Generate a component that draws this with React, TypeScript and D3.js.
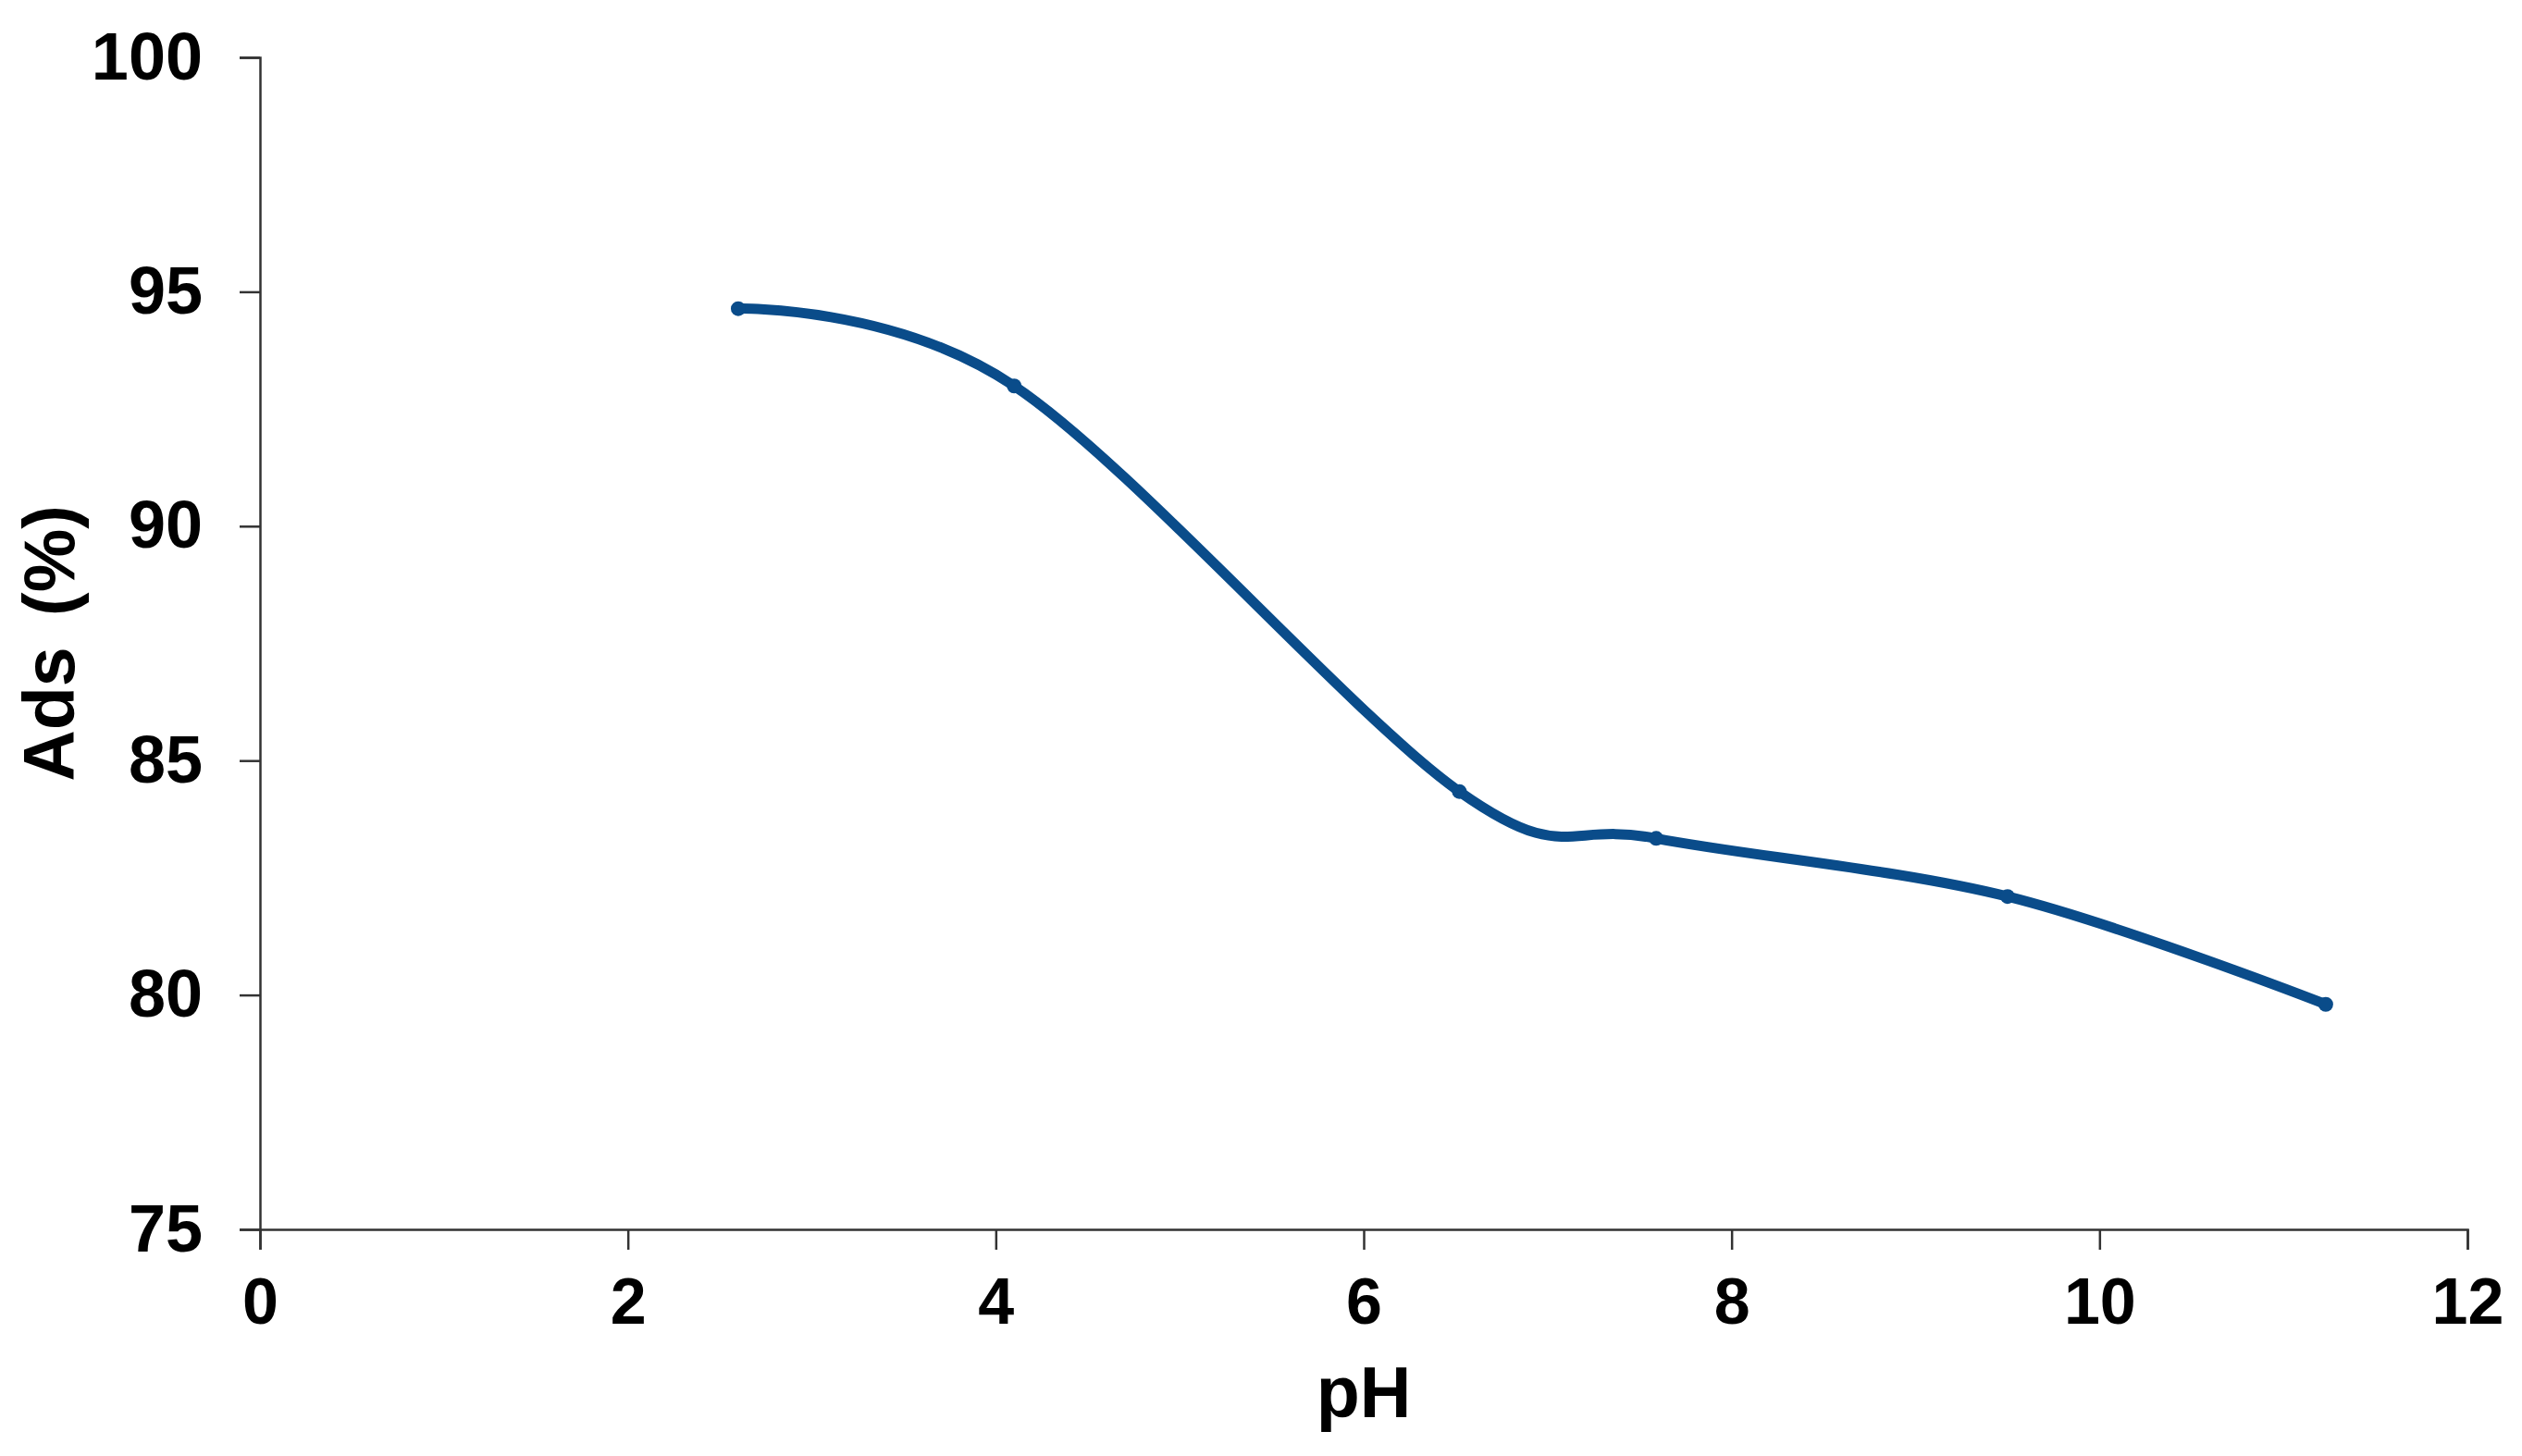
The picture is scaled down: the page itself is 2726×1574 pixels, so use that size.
import { useEffect, useRef } from "react";
import * as d3 from "d3";

// values
const phValues = [2.6, 4.1, 6.52, 7.59, 9.5, 11.23];
const adsValues = [94.64, 92.99, 84.34, 83.34, 82.1, 79.8];
const xTicks = [0, 2, 4, 6, 8, 10, 12];
const yTicks = [75, 80, 85, 90, 95, 100];
const xLabel = "pH";
const yLabel = "Ads (%)";

const WIDTH = 2726;
const HEIGHT = 1574;
const FONT = "'Liberation Sans', Arial, sans-serif";
const LINE_COLOR = "#0a4c8a";

const App = () => {
    const svgRef = useRef<SVGSVGElement>(null);

    useEffect(() => {
        const margin = { left: 281, right: 59, top: 62, bottom: 245 };

        const x = d3.scaleLinear()
            .domain([0, 12])
            .range([margin.left, WIDTH - margin.right]);
        const y = d3.scaleLinear()
            .domain([75, 100])
            .range([HEIGHT - margin.bottom, margin.top]);

        const svg = d3.select(svgRef.current);
        svg.selectAll("*").remove();

        // x axis
        const xAxis = svg.append("g")
            .attr("transform", `translate(0,${y(75)})`)
            .call(d3.axisBottom(x).tickValues(xTicks).tickSize(22).tickSizeOuter(22).tickPadding(30));
        xAxis.select(".domain").attr("stroke", "#333").attr("stroke-width", 2.5);
        xAxis.selectAll(".tick line").attr("stroke", "#333").attr("stroke-width", 2.5);
        xAxis.selectAll(".tick text")
            .attr("font-family", FONT)
            .attr("font-weight", "bold")
            .attr("font-size", 70)
            .attr("fill", "#000");

        // y axis
        const yAxis = svg.append("g")
            .attr("transform", `translate(${x(0)},0)`)
            .call(d3.axisLeft(y).tickValues(yTicks).tickSize(22).tickSizeOuter(22).tickPadding(40));
        yAxis.select(".domain").attr("stroke", "#333").attr("stroke-width", 2.5);
        yAxis.selectAll(".tick line").attr("stroke", "#333").attr("stroke-width", 2.5);
        yAxis.selectAll(".tick text")
            .attr("font-family", FONT)
            .attr("font-weight", "bold")
            .attr("font-size", 72)
            .attr("fill", "#000");

        // axis titles
        svg.append("text")
            .attr("x", (x(0) + x(12)) / 2)
            .attr("y", 1532)
            .attr("text-anchor", "middle")
            .attr("font-family", FONT)
            .attr("font-weight", "bold")
            .attr("font-size", 77)
            .text(xLabel);

        svg.append("text")
            .attr("transform", `translate(80,${(y(75) + y(100)) / 2}) rotate(-90)`)
            .attr("text-anchor", "middle")
            .attr("font-family", FONT)
            .attr("font-weight", "bold")
            .attr("font-size", 77)
            .attr("word-spacing", 12)
            .text(yLabel);

        const points: [number, number][] = phValues.map((p, i) => [p, adsValues[i]]);

        const line = d3.line<[number, number]>()
            .x(d => x(d[0]))
            .y(d => y(d[1]))
            .curve(d3.curveCardinal.tension(0));

        svg.append("path")
            .datum(points)
            .attr("d", line)
            .attr("fill", "none")
            .attr("stroke", LINE_COLOR)
            .attr("stroke-width", 11)
            .attr("stroke-linecap", "round");

        svg.append("g")
            .selectAll("circle")
            .data(points)
            .join("circle")
            .attr("cx", d => x(d[0]))
            .attr("cy", d => y(d[1]))
            .attr("r", 8)
            .attr("fill", LINE_COLOR);
    }, []);

    return (
        <svg
            ref={svgRef}
            width={WIDTH}
            height={HEIGHT}
            style={{ position: "absolute", top: 0, left: 0, background: "#fff" }}
        />
    );
};

export default App;
